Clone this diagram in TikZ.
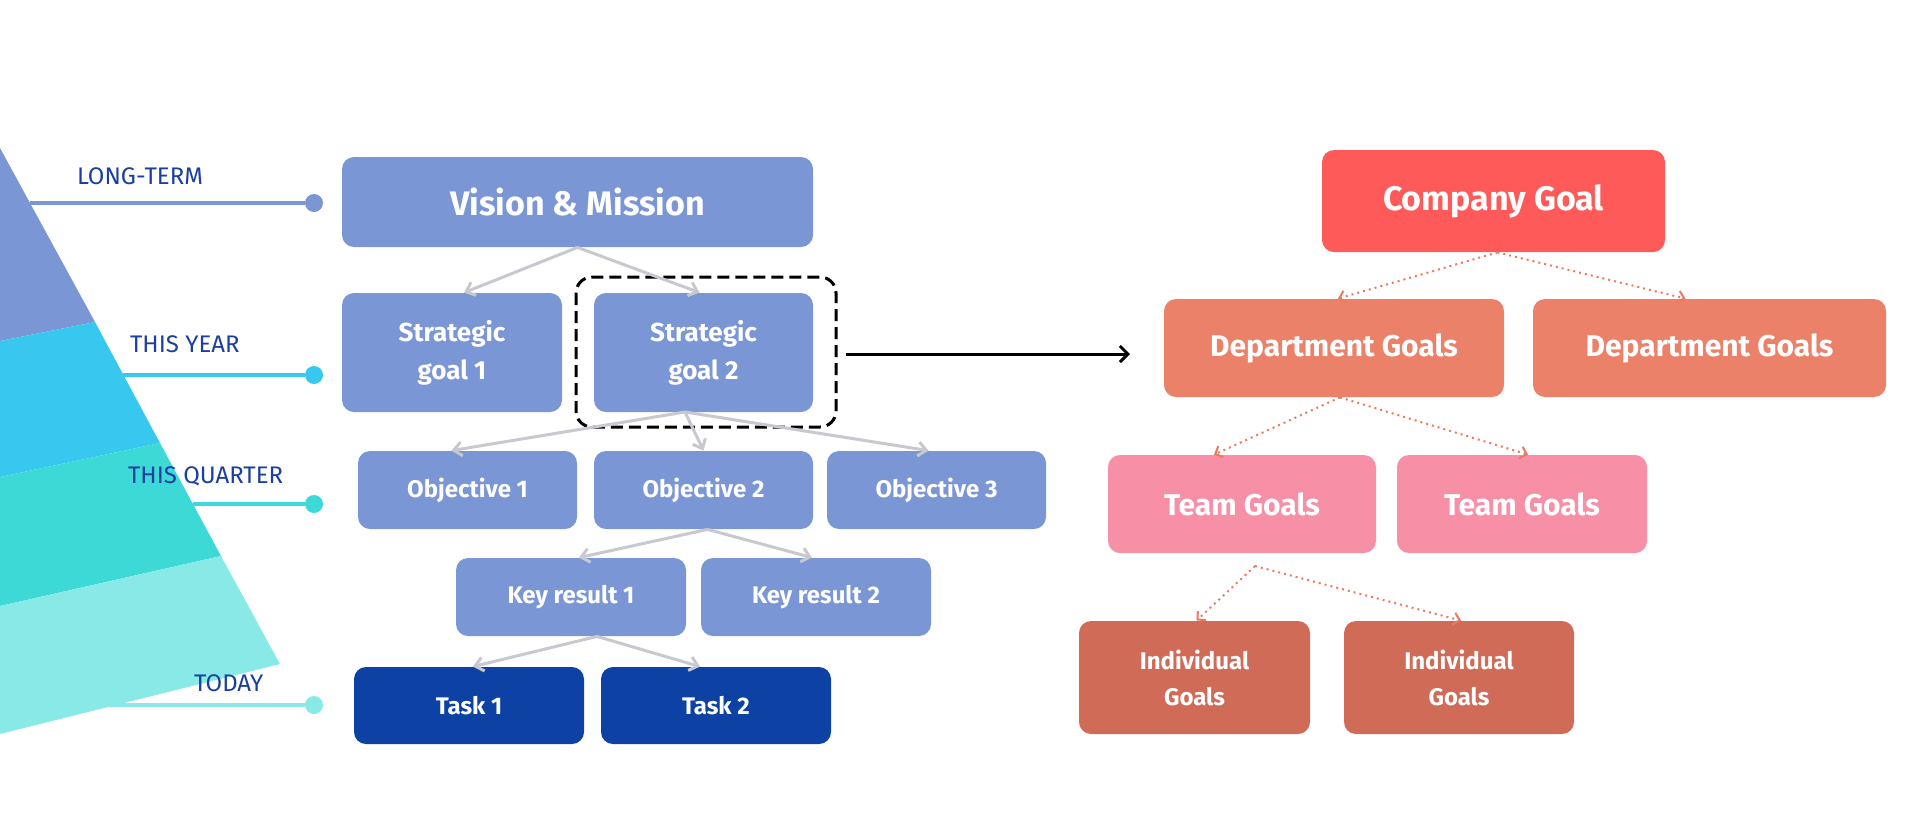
\documentclass[tikz,border=0pt]{standalone}
\usepackage{fontspec}
\setmainfont{Fira Sans}
\usetikzlibrary{arrows.meta}
\definecolor{bb}{HTML}{7B96D4}
\definecolor{tk}{HTML}{0D42A4}
\definecolor{cg}{HTML}{FF5A5A}
\definecolor{dg}{HTML}{EB8169}
\definecolor{tg}{HTML}{F78FA6}
\definecolor{ig}{HTML}{D06B57}
\definecolor{c1}{HTML}{7B96D4}
\definecolor{c2}{HTML}{38C8EF}
\definecolor{c3}{HTML}{3DD9D6}
\definecolor{c4}{HTML}{88E9E7}
\definecolor{lab}{HTML}{1A3FA0}
\definecolor{ga}{HTML}{C8C8D0}
\definecolor{da}{HTML}{EB7A60}
\begin{document}
\begin{tikzpicture}[x=0.5pt,y=-0.5pt,
 box/.style={fill=#1,draw=none,rounded corners=6pt,text=white,font=\bfseries,align=center,inner sep=0pt},
 ga/.style={draw=ga,line width=1.5pt,-{Straight Barb[length=4pt,width=7pt]}},
 da/.style={draw=da,line width=1pt,dotted,-{Straight Barb[length=3pt,width=6pt]}},
 lab/.style={text=lab,font=\fontsize{12}{14}\selectfont,anchor=west},
 dot/.style={circle,inner sep=0pt,minimum size=9pt,fill=#1}]
\useasboundingbox (0,0) rectangle (1919,837);
% pyramid
\fill[c1] (0,148) -- (95,322) -- (0,341) -- cycle;
\fill[c2] (0,341) -- (95,322) -- (160,443) -- (0,477) -- cycle;
\fill[c3] (0,477) -- (160,443) -- (221,556) -- (0,606) -- cycle;
\fill[c4] (0,606) -- (221,556) -- (280,664) -- (0,734) -- cycle;
% level labels
\node[dot=c1] (d1) at (314,203) {};
\node[dot=c2] (d2) at (314,375) {};
\node[dot=c3] (d3) at (314,504) {};
\node[dot=c4] (d4) at (314,705) {};
\coordinate (e1) at (30,203); \coordinate (e2) at (123,375);
\coordinate (e3) at (193,504); \coordinate (e4) at (100,705);
\draw[c1,line width=2pt] (e1) -- (d1);
\draw[c2,line width=2pt] (e2) -- (d2);
\draw[c3,line width=2pt] (e3) -- (d3);
\draw[c4,line width=2pt] (e4) -- (d4);
\node[lab] (l1) at (70,176) {LONG-TERM};
\node[lab] (l2) at (123,344) {THIS YEAR};
\node[lab] (l3) at (121,476) {THIS QUARTER};
\node[lab] (l4) at (187,683) {TODAY};
% left tree
\node[box=bb,minimum width=235.5pt,minimum height=45pt,font=\bfseries\fontsize{17}{20}\selectfont] (vm) at (577.5,202) {Vision \& Mission};
\node[box=bb,minimum width=110pt,minimum height=59.5pt,font=\bfseries\fontsize{13}{19}\selectfont] (sg1) at (452,352.5) {Strategic\\goal 1};
\node[box=bb,minimum width=109.5pt,minimum height=59.5pt,font=\bfseries\fontsize{13}{19}\selectfont] (sg2) at (703.5,352.5) {Strategic\\goal 2};
\draw[black,line width=1.5pt,dashed,dash pattern=on 6pt off 3pt,rounded corners=8pt] (576,277) rectangle (836,427);
\foreach \n/\x/\t in {o1/467.5/Objective 1,o2/703.5/Objective 2,o3/936.5/Objective 3}
  \node[box=bb,minimum width=109.5pt,minimum height=39pt,font=\bfseries\fontsize{12}{14}\selectfont] (\n) at (\x,490) {\t};
\foreach \n/\x/\t in {k1/571/Key result 1,k2/816/Key result 2}
  \node[box=bb,minimum width=115pt,minimum height=39pt,font=\bfseries\fontsize{12}{14}\selectfont] (\n) at (\x,597) {\t};
\foreach \n/\x/\t in {t1/469/Task 1,t2/716/Task 2}
  \node[box=tk,minimum width=115pt,minimum height=38.5pt,font=\bfseries\fontsize{12}{14}\selectfont] (\n) at (\x,705.5) {\t};
\draw[ga] (vm.south) -- ([xshift=6pt]sg1.north);
\draw[ga] (vm.south) -- ([xshift=-2pt]sg2.north);
\coordinate (s2b) at (685,412);
\draw[ga] (s2b) -- ([xshift=-8pt]o1.north);
\draw[ga] (s2b) -- (o2.north);
\draw[ga] (s2b) -- ([xshift=-4pt]o3.north);
\draw[ga] ([xshift=2pt]o2.south) -- ([xshift=4pt]k1.north);
\draw[ga] ([xshift=2pt]o2.south) -- ([xshift=-2pt]k2.north);
\draw[ga] ([xshift=13pt]k1.south) -- ([xshift=2pt]t1.north);
\draw[ga] ([xshift=13pt]k1.south) -- ([xshift=-8pt]t2.north);
\coordinate (ar1) at (846,354);
\draw[black,line width=1.5pt,-{Straight Barb[length=4pt,width=8pt]}] (ar1) -- ([xshift=-17pt]1164,354) coordinate (ar2);
% right tree
\node[box=cg,minimum width=171.5pt,minimum height=51pt,font=\bfseries\fontsize{17}{20}\selectfont] (cgn) at (1493.5,201) {Company Goal};
\node[box=dg,minimum width=170pt,minimum height=49pt,font=\bfseries\fontsize{15}{18}\selectfont] (dg1) at (1334,348) {Department Goals};
\node[box=dg,minimum width=176.5pt,minimum height=49pt,font=\bfseries\fontsize{15}{18}\selectfont] (dg2) at (1709.5,348) {Department Goals};
\node[box=tg,minimum width=134pt,minimum height=49pt,font=\bfseries\fontsize{15}{18}\selectfont] (tg1) at (1242,504) {Team Goals};
\node[box=tg,minimum width=125pt,minimum height=49pt,font=\bfseries\fontsize{15}{18}\selectfont] (tg2) at (1522,504) {Team Goals};
\node[box=ig,minimum width=115.5pt,minimum height=56.5pt,font=\bfseries\fontsize{12}{18}\selectfont] (ig1) at (1194.5,677.5) {Individual\\Goals};
\node[box=ig,minimum width=115pt,minimum height=56.5pt,font=\bfseries\fontsize{12}{18}\selectfont] (ig2) at (1459,677.5) {Individual\\Goals};
\draw[da] ([xshift=2pt]cgn.south) -- ([xshift=2pt]dg1.north);
\draw[da] ([xshift=2pt]cgn.south) -- ([xshift=-12pt]dg2.north);
\draw[da] ([xshift=3pt]dg1.south) -- ([xshift=-14pt]tg1.north);
\draw[da] ([xshift=3pt]dg1.south) -- ([xshift=3pt]tg2.north);
\coordinate (tb) at (1255,566);
\draw[da] (tb) -- ([xshift=1pt]ig1.north);
\draw[da] (tb) -- ([xshift=1pt]ig2.north);
\end{tikzpicture}
\end{document}
